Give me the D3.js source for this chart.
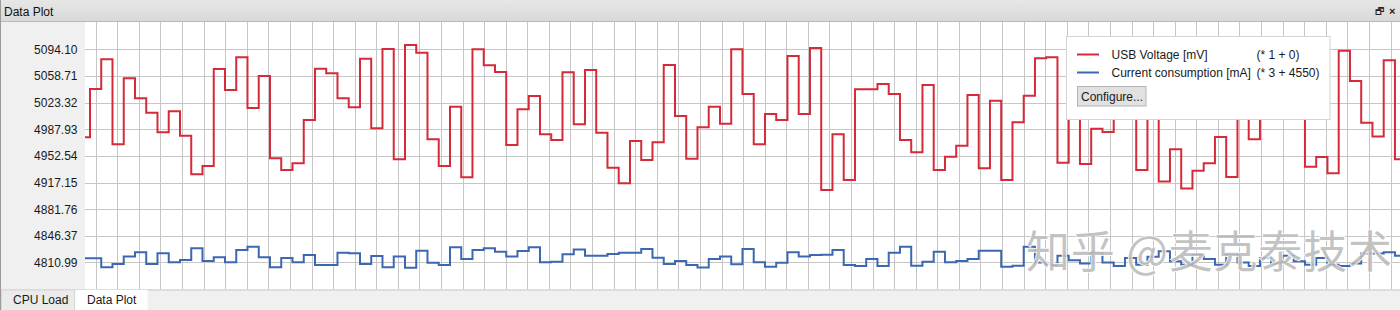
<!DOCTYPE html>
<html>
<head>
<meta charset="utf-8">
<script src="https://cdn.jsdelivr.net/npm/d3@7"></script>
<style>
  body { margin: 0; background: #f0f0f0; overflow: hidden; }
  svg { display: block; font-family: "Liberation Sans", Arial, sans-serif; }
</style>
</head>
<body>
<script>
// USB voltage samples [mV], one per sample period
const usbVoltage = [
  4977.2, 5041.4, 5080.8, 4967.9, 5055.6, 5029.0, 5009.9, 4983.9, 5011.8, 4979.4,
  4928.1, 4939.1, 5067.9, 5040.0, 5083.5, 5016.1, 5058.6, 4949.4, 4933.8, 4942.7,
  5000.2, 5068.3, 5062.2, 5029.0, 5017.1, 5081.6, 4989.2, 5094.5, 4948.0, 5099.8,
  5089.6, 4974.6, 4939.1, 5017.9, 4924.1, 5094.1, 5072.8, 5064.0, 4967.0, 5014.4,
  5032.1, 4981.2, 4973.7, 5063.6, 4994.5, 5066.6, 4983.3, 4936.9, 4916.2, 4972.3,
  4947.1, 4970.6, 5073.2, 5005.5, 4948.8, 4990.5, 5017.9, 4995.3, 5094.1, 5034.7,
  4967.9, 5008.2, 5000.2, 5085.2, 5008.2, 5095.8, 4907.3, 4981.2, 4920.5, 5041.0,
  5041.0, 5048.0, 5034.7, 4973.7, 4957.3, 5046.7, 4933.8, 4951.5, 4966.1, 5033.4,
  4936.1, 5025.8, 4920.5, 4997.2, 5032.5, 5082.1, 5083.5, 4943.5, 5030.0, 4941.8,
  4988.7, 4984.3, 5060.0, 5020.0, 4933.8, 5045.0, 4918.5, 4961.3, 4909.2, 4932.9,
  4942.7, 4977.6, 4924.5, 5025.0, 4974.6, 5040.0, 5070.0, 5010.0, 5050.0, 4938.2,
  4951.1, 4929.4, 5092.2, 5052.0, 4996.6, 4978.3, 5079.5, 4948.0
];

// current consumption samples [mA], drawn as (* 3 + 4550)
const currentMa = [
  88.9, 88.9, 84.9, 86.3, 89.6, 91.5, 86.3, 91.1, 87.1, 88.1,
  93.3, 87.7, 89.3, 87.1, 92.5, 94.0, 89.3, 84.9, 89.0, 87.1,
  90.3, 85.9, 85.9, 91.3, 91.1, 86.3, 89.9, 84.9, 89.6, 84.7,
  92.2, 86.9, 85.9, 93.7, 88.5, 92.5, 93.3, 91.8, 89.6, 92.1,
  93.7, 87.1, 87.3, 90.6, 92.8, 90.0, 90.0, 90.8, 91.3, 91.3,
  93.0, 89.1, 86.3, 87.7, 85.9, 84.8, 88.5, 89.6, 86.2, 93.0,
  87.1, 85.1, 86.9, 91.5, 89.6, 90.3, 90.4, 92.5, 85.9, 85.4,
  88.5, 85.4, 91.3, 94.0, 85.6, 87.3, 91.8, 87.1, 87.7, 88.5,
  92.2, 92.2, 85.1, 85.6, 94.0, 87.0, 86.0, 90.0, 88.0, 86.5,
  91.5, 87.0, 85.5, 89.0, 86.0, 89.5, 92.0, 87.5, 86.0, 90.5,
  88.5, 86.0, 91.0, 87.0, 85.5, 89.0, 86.5, 90.0, 87.5, 86.0,
  89.0, 86.0, 85.5, 86.5, 91.0, 91.0, 91.5, 90.0
];

const yTickLabels = ["4810.99", "4846.37", "4881.76", "4917.15", "4952.54",
                     "4987.93", "5023.32", "5058.71", "5094.10"];
const seriesNames = ["USB Voltage [mV]", "Current consumption [mA]"];
const seriesScaling = ["(* 1 + 0)", "(* 3 + 4550)"];
const seriesFactor = [1, 3];
const seriesOffset = [0, 4550];
const seriesColors = ["#d42a3a", "#3b68b0"];
const tabNames = ["CPU Load", "Data Plot"];

const samplePeriod = 0.5213;     // s
const firstSampleTime = -0.786;  // s
const timeDomain = [-0.496, 60.44];
const valueDomain = [4775.596, 5129.484];

const width = 1400, height = 310;
const plot = { left: 85, right: 1400, top: 22, bottom: 289.5 };

const svg = d3.select('body').append('svg')
  .attr('width', width)
  .attr('height', height);

const x = d3.scaleLinear().domain(timeDomain).range([plot.left, plot.right]);
const y = d3.scaleLinear().domain(valueDomain).range([289.15, 22.65]);

// title bar
const grad = svg.append('defs').append('linearGradient')
  .attr('id', 'titleGrad').attr('x1', 0).attr('x2', 0).attr('y1', 0).attr('y2', 1);
grad.append('stop').attr('offset', 0).attr('stop-color', '#e6e6e6');
grad.append('stop').attr('offset', 1).attr('stop-color', '#d8d8d8');

svg.append('rect').attr('x', 0).attr('y', 0).attr('width', width).attr('height', 22)
  .attr('fill', 'url(#titleGrad)');
svg.append('line').attr('x1', 0).attr('x2', width).attr('y1', 21.5).attr('y2', 21.5)
  .attr('stroke', '#b9b9b9');
svg.append('text').attr('x', 4).attr('y', 15.5).attr('font-size', 12).attr('fill', '#111')
  .text('Data Plot');
svg.append('text').attr('x', 1375).attr('y', 15).attr('font-size', 10).attr('fill', '#222')
  .attr('font-family', 'DejaVu Sans').text('🗗');
svg.append('text').attr('x', 1389).attr('y', 15).attr('font-size', 11).attr('fill', '#222')
  .attr('font-weight', 'bold').text('×');

// left axis strip
svg.append('rect').attr('x', 0).attr('y', 22).attr('width', plot.left).attr('height', plot.bottom - 22)
  .attr('fill', '#f0f0f0');

// plot area
svg.append('rect').attr('x', plot.left).attr('y', plot.top)
  .attr('width', plot.right - plot.left).attr('height', plot.bottom - plot.top)
  .attr('fill', '#fff');

svg.append('clipPath').attr('id', 'plotClip').append('rect')
  .attr('x', plot.left).attr('y', plot.top)
  .attr('width', plot.right - plot.left).attr('height', plot.bottom - plot.top);

const grid = svg.append('g').attr('clip-path', 'url(#plotClip)');

const timeTicks = d3.range(Math.ceil(timeDomain[0]), Math.floor(timeDomain[1]) + 1);
grid.selectAll('line.vgrid')
  .data(timeTicks)
  .enter().append('line')
  .attr('class', 'vgrid')
  .attr('x1', d => Math.round(x(d)) + 0.5)
  .attr('x2', d => Math.round(x(d)) + 0.5)
  .attr('y1', plot.top)
  .attr('y2', plot.bottom)
  .attr('stroke', '#c6c6c6');

const yTicks = yTickLabels.map(Number);
grid.selectAll('line.hgrid')
  .data(yTicks)
  .enter().append('line')
  .attr('class', 'hgrid')
  .attr('x1', plot.left)
  .attr('x2', plot.right)
  .attr('y1', d => Math.round(y(d)) + 0.5)
  .attr('y2', d => Math.round(y(d)) + 0.5)
  .attr('stroke', '#c6c6c6');

// y axis labels
const yAxis = d3.axisLeft(y)
  .tickValues(yTicks)
  .tickFormat((d, i) => yTickLabels[i])
  .tickSize(0)
  .tickPadding(0);

const axisG = svg.append('g')
  .attr('transform', `translate(${plot.left - 7.5},0)`)
  .call(yAxis);
axisG.select('.domain').remove();
axisG.selectAll('text')
  .attr('font-size', 12)
  .attr('font-family', '"Liberation Sans", Arial, sans-serif')
  .attr('fill', '#1a1a1a');

// step series
function stepPoints(values) {
  const pts = values.map((v, i) => [firstSampleTime + i * samplePeriod, v]);
  pts.push([firstSampleTime + values.length * samplePeriod, values[values.length - 1]]);
  return pts;
}

const line = d3.line()
  .x(d => x(d[0]))
  .y(d => y(d[1]))
  .curve(d3.curveStepAfter);

const seriesData = [usbVoltage, currentMa];
const seriesG = svg.append('g').attr('clip-path', 'url(#plotClip)');
seriesData.forEach((vals, s) => {
  const scaled = vals.map(v => v * seriesFactor[s] + seriesOffset[s]);
  seriesG.append('path')
    .datum(stepPoints(scaled))
    .attr('fill', 'none')
    .attr('stroke', seriesColors[s])
    .attr('stroke-width', 2)
    .attr('stroke-linejoin', 'miter')
    .attr('d', line);
});

// watermark
svg.append('text')
  .attr('x', 1026).attr('y', 268)
  .attr('font-family', '"Noto Sans CJK SC", sans-serif')
  .attr('font-size', 44)
  .attr('textLength', 366)
  .attr('lengthAdjust', 'spacing')
  .attr('fill', '#b8b8b8')
  .attr('fill-opacity', 0.85)
  .attr('stroke', '#ffffff')
  .attr('stroke-width', 1.5)
  .attr('paint-order', 'stroke')
  .text('知乎 @麦克泰技术');

// legend
const legend = svg.append('g');
legend.append('rect')
  .attr('x', 1066.5).attr('y', 36.5).attr('width', 263.5).attr('height', 83)
  .attr('fill', '#fff').attr('stroke', '#d4d4d4');

seriesNames.forEach((name, i) => {
  const ly = 54.5 + i * 18;
  legend.append('line')
    .attr('x1', 1077).attr('x2', 1099).attr('y1', ly).attr('y2', ly)
    .attr('stroke', seriesColors[i]).attr('stroke-width', 2);
  legend.append('text')
    .attr('x', 1111.5).attr('y', ly + 4.5)
    .attr('font-size', 12).attr('fill', '#1a1a1a')
    .text(name);
  legend.append('text')
    .attr('x', 1256.5).attr('y', ly + 4.5)
    .attr('font-size', 12).attr('fill', '#1a1a1a')
    .text(seriesScaling[i]);
});

legend.append('rect')
  .attr('x', 1077.5).attr('y', 86.5).attr('width', 68.5).attr('height', 19.5)
  .attr('fill', '#e1e1e1').attr('stroke', '#b4b4b4');
legend.append('text')
  .attr('x', 1081).attr('y', 100.5)
  .attr('font-size', 12).attr('fill', '#1a1a1a')
  .text('Configure...');

// bottom tab strip
svg.append('rect').attr('x', 0).attr('y', plot.bottom).attr('width', width)
  .attr('height', height - plot.bottom).attr('fill', '#f0f0f0');
svg.append('line').attr('x1', 0).attr('x2', width)
  .attr('y1', plot.bottom + 0.5).attr('y2', plot.bottom + 0.5).attr('stroke', '#c8c8c8');

const tabs = [{ x: 1, w: 73, active: false }, { x: 75, w: 72, active: true }];
tabs.forEach((t, i) => {
  svg.append('rect')
    .attr('x', t.x + 0.5).attr('y', plot.bottom + 0.5)
    .attr('width', t.w).attr('height', height - plot.bottom)
    .attr('fill', t.active ? '#fff' : '#ebebeb')
    .attr('stroke', t.active ? 'none' : '#d8d8d8');
  svg.append('text')
    .attr('x', t.x + 12).attr('y', 304)
    .attr('font-size', 12).attr('fill', '#1a1a1a')
    .text(tabNames[i]);
});
svg.append('line').attr('x1', 0.5).attr('x2', 0.5).attr('y1', 0).attr('y2', height)
  .attr('stroke', '#9a9a9a');
</script>
</body>
</html>
